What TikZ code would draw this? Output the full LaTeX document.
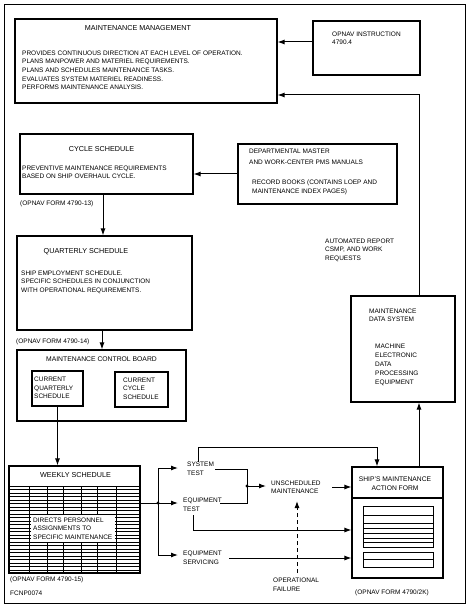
\documentclass[tikz,border=0pt]{standalone}
\usepackage{fontspec}
\setmainfont{Liberation Sans}
\usetikzlibrary{calc,fit,arrows.meta}

\tikzset{
  box/.style={draw, line width=\lw, inner sep=0pt},
  lbl/.style={font=\fontsize{6.5}{8.6}\selectfont, inner sep=0pt, align=left, anchor=north west},
  ttl/.style={font=\fontsize{7.2}{9}\selectfont, inner sep=0pt, align=center},
  arr/.style={-{Latex[length=7pt,width=5pt]}, line width=\hw},
  wire/.style={line width=\hw},
}

\begin{document}
\begin{tikzpicture}[x=1pt,y=-1pt]
%
\def\lw{1.1pt};
\def\hw{1pt};
\def\gw{0.6pt};
%
\useasboundingbox (0,0) rectangle (474,609);
\draw[line width=\hw] (4,5) rectangle (465,603);
%
% boxes
\node[box, fit={(15,19) (277,103)}] (mm) {};
\node[box, fit={(313,21) (420,75)}] (opnav) {};
\node[box, fit={(20,134) (193,194)}] (cyc) {};
\node[box, fit={(238,144) (397,204)}] (dept) {};
\node[box, fit={(17,236) (192,330)}] (qtr) {};
\node[box, fit={(351,296) (455,402)}] (mds) {};
\node[box, fit={(17,350) (186,421)}] (mcb) {};
\node[box, fit={(32,371) (83,406)}] (cq) {};
\node[box, fit={(115,372) (168,407)}] (cc) {};
\node[box, fit={(9,466) (140,573)}] (wk) {};
\node[box, fit={(352,467) (443,578)}] (smaf) {};
%
% texts
\node[ttl] (mmttl) at (138,28) {MAINTENANCE MANAGEMENT};
\node[lbl] (mmtxt) at (22,50.6) {PROVIDES CONTINUOUS DIRECTION AT EACH LEVEL OF OPERATION.\\
PLANS MANPOWER AND MATERIEL REQUIREMENTS.\\PLANS AND SCHEDULES MAINTENANCE TASKS.\\
EVALUATES SYSTEM MATERIEL READINESS.\\PERFORMS MAINTENANCE ANALYSIS.};
\node[lbl, font=\fontsize{6.5}{8}\selectfont] (opnavtxt) at (332,31.6) {OPNAV INSTRUCTION\\4790.4};
%
\node[ttl] (cycttl) at (101.5,149) {CYCLE SCHEDULE};
\node[lbl, font=\fontsize{6.5}{8.5}\selectfont] (cyctxt) at (22,165.6) {PREVENTIVE MAINTENANCE REQUIREMENTS\\BASED ON SHIP OVERHAUL CYCLE.};
\node[lbl] (cycform) at (20,200.6) {(OPNAV FORM 4790-13)};
\node[lbl] (depttxt) at (249,148.6) {DEPARTMENTAL MASTER\\[3pt]AND WORK-CENTER PMS MANUALS};
\node[lbl, font=\fontsize{6.5}{8.5}\selectfont] (rectxt) at (252,179.6) {RECORD BOOKS (CONTAINS LOEP AND\\MAINTENANCE INDEX PAGES)};
%
\node[ttl] (qtrttl) at (86,252) {QUARTERLY SCHEDULE};
\node[lbl, font=\fontsize{6.5}{8.5}\selectfont] (qtrtxt) at (21,270.6) {SHIP EMPLOYMENT SCHEDULE.\\SPECIFIC SCHEDULES IN CONJUNCTION\\WITH OPERATIONAL REQUIREMENTS.};
\node[lbl] (qtrform) at (16,338.6) {(OPNAV FORM 4790-14)};
\node[lbl, font=\fontsize{6.5}{8.5}\selectfont] (autotxt) at (325,238.6) {AUTOMATED REPORT\\CSMP, AND WORK\\REQUESTS};
%
\node[lbl, font=\fontsize{6.5}{8}\selectfont] (mdstxt) at (369,308.6) {MAINTENANCE\\DATA SYSTEM};
\node[lbl, font=\fontsize{6.5}{9}\selectfont] (edptxt) at (375,343.6) {MACHINE\\ELECTRONIC\\DATA\\PROCESSING\\EQUIPMENT};
%
\node[ttl, font=\fontsize{6.8}{9}\selectfont] (mcbttl) at (101.5,359) {MAINTENANCE CONTROL BOARD};
\node[lbl, font=\fontsize{6.5}{8.7}\selectfont] (cqtxt) at (34,376.6) {CURRENT\\QUARTERLY\\SCHEDULE};
\node[lbl, font=\fontsize{6.5}{8.5}\selectfont] (cctxt) at (123,377.6) {CURRENT\\CYCLE\\SCHEDULE};
%
% weekly grid
\node[ttl] (wkttl) at (75.5,475) {WEEKLY SCHEDULE};
\foreach \y in {486,489.5,...,571}
  \draw[line width=\gw] (9,\y) -- (140,\y);
\foreach \x in {29,47,63,81,97,116}
  \draw[line width=\gw] (\x,486) -- (\x,573);
\fill[white] (31,515) rectangle (115,542);
\node[lbl, font=\fontsize{6.5}{8.5}\selectfont] (wktxt) at (33,517.6) {DIRECTS PERSONNEL\\ASSIGNMENTS TO\\SPECIFIC MAINTENANCE};
\node[lbl] (wkform) at (10,576.6) {(OPNAV FORM 4790-15)};
\node[lbl] (fcnp) at (10,590.6) {FCNP0074};
%
\node[lbl, font=\fontsize{6.5}{9}\selectfont] (systest) at (187,461.6) {SYSTEM\\TEST};
\node[lbl, font=\fontsize{6.5}{9}\selectfont] (eqtest) at (183,497.6) {EQUIPMENT\\TEST};
\node[lbl, font=\fontsize{6.5}{9}\selectfont] (eqserv) at (183,550.6) {EQUIPMENT\\SERVICING};
\node[lbl, font=\fontsize{6.5}{8}\selectfont] (unsch) at (271,480.6) {UNSCHEDULED\\MAINTENANCE};
\node[lbl, font=\fontsize{6.5}{9}\selectfont] (opfail) at (273,577.6) {OPERATIONAL\\FAILURE};
%
% action form
\node[ttl, font=\fontsize{6.7}{9}\selectfont] (smafttl) at (395,483.5) {SHIP'S MAINTENANCE\\ACTION FORM};
\node[ttl, font=\fontsize{6.5}{9}\selectfont] (smafform) at (392,593) {(OPNAV FORM 4790/2K)};
\draw[line width=\lw] (smaf.west |- 0,498) -- (smaf.east |- 0,498);
\draw[line width=\hw] (363,506) rectangle (433,547);
\foreach \y in {515,523,528,533,538,542}
  \draw[line width=\gw] (363,\y) -- (433,\y);
\draw[line width=\hw] (363,552) rectangle (433,567);
\draw[line width=\gw] (363,559.5) -- (433,559.5);
%
% columns and rows of connectors
\coordinate (ya) at (0,42);
\coordinate (yb) at (0,95);
\coordinate (ytop) at (0,447);
\coordinate (yc) at (0,530);
\coordinate (xr) at (419,0);
\coordinate (xa) at (103,0);
\coordinate (xb) at (102,0);
\coordinate (xu) at (198,0);
\coordinate (xt) at (377,0);
\coordinate (xj) at (247,0);
\coordinate (xtip) at (178,0);
%
\draw[arr] (opnav.west |- ya) -- (mm.east |- ya);
\draw[arr] (smaf.north -| xr) -- (mds.south -| xr);
\draw[arr] (mds.north -| xr) |- (mm.east |- yb);
\draw[arr] (dept.west) -- (dept.west -| cyc.east);
\draw[arr] (cyc.south -| xa) -- (qtr.north -| xa);
\draw[arr] (qtr.south -| xb) -- (mcb.north -| xb);
\draw[arr] (cq.south) -- (cq.south |- wk.north);
%
\coordinate (split) at (158,503);
\coordinate (st) at (158,468);
\coordinate (sv) at (158,555);
\draw[wire] (wk.east |- split) -- (split);
\draw[wire] (st) -- (sv);
\fill (split) circle (1.6pt);
\draw[arr] (split) -- (split -| xtip);
\draw[arr] (st) -- (st -| xtip);
\draw[arr] (sv) -- (sv -| xtip);
%
\draw[arr] (systest.north -| xu) -- (xu |- ytop) -| (smaf.north -| xt);
\coordinate (ja) at (215,469);
\coordinate (jb) at (220,503);
\coordinate (join) at (247,486);
\draw[wire] (ja) -| (xj |- jb) -- (jb);
\fill (join) circle (1.6pt);
\draw[arr] (join) -- (266,486);
\coordinate (ua) at (332,487);
\draw[arr] (ua) -- (smaf.west |- ua);
\coordinate (ea) at (193,515);
\draw[arr] (ea) |- (smaf.west |- yc);
\coordinate (sa) at (229,558);
\draw[arr] (sa) -- (smaf.west |- sa);
\coordinate (fa) at (297,573);
\coordinate (fb) at (297,501);
\draw[arr, dash pattern=on 4pt off 3pt] (fa) -- (fb);
%
\end{tikzpicture}
\end{document}
